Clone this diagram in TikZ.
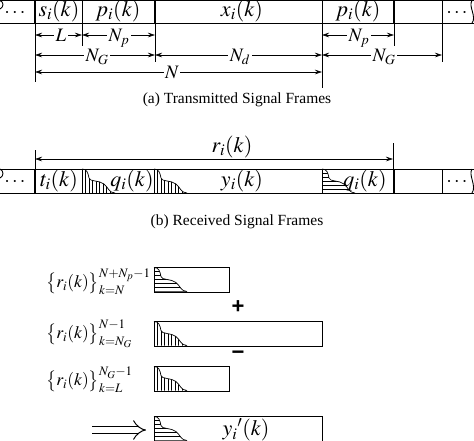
\documentclass[tikz,border=0pt]{standalone}
\usepackage{mathptmx}
\usepackage{fontspec}
\setmainfont{Liberation Serif}
\newfontfamily\sansb{Liberation Sans}
\usetikzlibrary{arrows.meta}
\newcommand\prof{(0,0) .. controls (5,0) and (6,4) .. (7,9) .. controls (8,13) and (17,11) .. (22,15) .. controls (26,18) and (27,24) .. (33,24)}
\newcommand\hatchv[2]{%
  \begin{scope}[shift={(#1,#2)}]
    \begin{scope}
      \clip \prof -- (0,24) -- cycle;
      \foreach \i in {3.5,7,...,33} \draw[line width=0.5pt] (\i,0) -- (\i,24);
    \end{scope}
    \draw[line width=0.7pt] \prof;
    \draw[line width=0.9pt] (0,0) -- (0,24);
  \end{scope}}
\newcommand\hatchh[2]{%
  \begin{scope}[shift={(#1,#2)}]
    \begin{scope}
      \clip \prof -- (0,24) -- cycle;
      \foreach \i in {4,8,...,24} \draw[line width=0.5pt] (0,\i) -- (34,\i);
    \end{scope}
    \draw[line width=0.7pt] \prof;
    \draw[line width=0.9pt] (0,0) -- (0,24);
  \end{scope}}
\begin{document}
\begin{tikzpicture}[x=1pt,y=-1pt,
  frame/.style={line width=0.9pt},
  thickdiv/.style={line width=1.6pt},
  ext/.style={line width=0.6pt},
  dim/.style={line width=0.6pt,{Stealth[length=7pt,width=4.5pt]}-{Stealth[length=7pt,width=4.5pt]}},
  lab/.style={font=\fontsize{22}{24}\selectfont, inner sep=0pt},
  dots/.style={font=\fontsize{20}{22}\selectfont, inner sep=0pt, text height=3pt, text depth=0pt, anchor=base},
  llab/.style={font=\fontsize{17.5}{20}\selectfont, inner sep=0pt, anchor=west},
  dlab/.style={font=\fontsize{19}{20}\selectfont, fill=white, inner sep=1.5pt, anchor=base},
  captxt/.style={font=\fontsize{15.5}{18}\selectfont, inner sep=0pt},
  box/.style={draw, line width=0.9pt}]
\useasboundingbox (0,0) rectangle (474,440);

% ---------------- (a) transmitted frames ----------------
\draw[frame] (0,0.5) -- (474,0.5);
\draw[frame] (0,23) -- (474,23);
\draw[frame] (0,0.5) .. controls (4,2) and (4,7) .. (0,9);
\draw[frame] (472,0.5) .. controls (468,6) and (477,17) .. (472,23);
\coordinate (a0) at (35,23);
\coordinate (a1) at (82,23);
\coordinate (a2) at (155,23);
\coordinate (a3) at (322,23);
\coordinate (a4) at (394,23);
\coordinate (a5) at (442,23);
\draw[thickdiv] (35,0.5) -- (a0);
\draw[frame] (82,0.5) -- (a1);
\draw[thickdiv] (155,0.5) -- (a2);
\draw[frame] (322,0.5) -- (a3);
\draw[thickdiv] (394,0.5) -- (a4);
\draw[frame] (442,0.5) -- (a5);
\node[dots] (ad1) at (15,17) {$\cdots$};
\node[lab] (as) at (59,11) {$s_i(k)$};
\node[lab] (ap1) at (118,11) {$p_i(k)$};
\node[lab] (ax) at (242,11) {$x_i(k)$};
\node[lab] (ap2) at (358,11) {$p_i(k)$};
\node[dots] (ad2) at (457,17) {$\cdots$};
% extension lines
\coordinate (e0) at (35,82);
\coordinate (e1) at (82,46);
\coordinate (e2) at (155,62);
\coordinate (e3) at (322,88);
\coordinate (e4) at (394,46);
\coordinate (e5) at (442,62);
\draw[ext] (a0) -- (e0);
\draw[ext] (a1) -- (e1);
\draw[ext] (a2) -- (e2);
\draw[ext] (a3) -- (e3);
\draw[ext] (a4) -- (e4);
\draw[ext] (a5) -- (e5);
\coordinate (r1) at (0,35);
\coordinate (r2) at (0,55);
\coordinate (r3) at (0,72);
\draw[dim] (a0 |- r1) -- (a1 |- r1);
\draw[dim] (a1 |- r1) -- (a2 |- r1);
\draw[dim] (a3 |- r1) -- (a4 |- r1);
\draw[dim] (a0 |- r2) -- (a2 |- r2);
\draw[dim] (a2 |- r2) -- (a3 |- r2);
\draw[dim] (a3 |- r2) -- (a5 |- r2);
\draw[dim] (a0 |- r3) -- (a3 |- r3);
\node[dlab] (lL) at (61,41.5) {$L$};
\node[dlab] (lNp1) at (119,41.5) {$N_p$};
\node[dlab] (lNp2) at (359,41.5) {$N_p$};
\node[dlab] (lNG1) at (97,61.5) {$N_G$};
\node[dlab] (lNd) at (240,61.5) {$N_d$};
\node[dlab] (lNG2) at (384,61.5) {$N_G$};
\node[dlab] (lN) at (172,78.5) {$N$};
\node[captxt] (capa) at (237,100) {(a) Transmitted Signal Frames};

% ---------------- (b) received frames ----------------
\coordinate (b0) at (35,150);
\coordinate (b1) at (393,143);
\coordinate (r4) at (0,159);
\draw[ext] (b0) -- (35,169);
\draw[ext] (b1) -- (393,169);
\draw[dim] (b0 |- r4) -- (b1 |- r4);
\node[lab] (rk) at (232,147) {$r_i(k)$};
\draw[frame] (0,169) -- (474,169);
\draw[frame] (0,193) -- (474,193);
\draw[frame] (0,169) .. controls (4,171) and (4,176) .. (0,178);
\draw[frame] (472,169) .. controls (468,175) and (477,186) .. (472,193);
\draw[thickdiv] (35,169) -- (35,193);
\draw[thickdiv] (394,169) -- (394,193);
\draw[frame] (442,169) -- (442,193);
\hatchv{82}{169}
\hatchv{154}{169}
\hatchh{322}{169}
\node[dots] (bd1) at (15,186) {$\cdots$};
\node[lab] (bt) at (59,181) {$t_i(k)$};
\node[lab] (bq1) at (132,181) {$q_i(k)$};
\node[lab] (by) at (242,181) {$y_i(k)$};
\node[lab] (bq2) at (365,181) {$q_i(k)$};
\node[dots] (bd2) at (457,186) {$\cdots$};
\node[captxt] (capb) at (237,222) {(b) Received Signal Frames};

% ---------------- (c) combination ----------------
\node[box, minimum width=75pt, minimum height=25pt, anchor=north west, inner sep=0pt] (c1) at (154,267) {};
\hatchh{154}{267.5}
\node[font=\sansb\bfseries\fontsize{22}{22}\selectfont, inner sep=0pt] (plus) at (238,307) {+};
\node[box, minimum width=168pt, minimum height=25pt, anchor=north west, inner sep=0pt] (c2) at (154,321) {};
\hatchv{154}{321.5}
\node[font=\sansb\bfseries\fontsize{22}{22}\selectfont, inner sep=0pt] (minus) at (238,355) {−};
\node[box, minimum width=75pt, minimum height=25pt, anchor=north west, inner sep=0pt] (c3) at (154,366) {};
\hatchv{154}{366.5}
\node[box, line width=1.3pt, minimum width=168pt, minimum height=36pt, anchor=north west, inner sep=0pt] (c4) at (154,416) {};
\hatchh{154}{416.5}
\node[lab] (yp) at (246,430) {$y_i{}'(k)$};
\node[llab] (l1) at (46,282) {$\bigl\{r_i(k)\bigr\}_{k=N}^{N+N_p-1}$};
\node[llab] (l2) at (46,334) {$\bigl\{r_i(k)\bigr\}_{k=N_G}^{N-1}$};
\node[llab] (l3) at (46,380) {$\bigl\{r_i(k)\bigr\}_{k=L}^{N_G-1}$};
\coordinate (arrs) at (92,430);
\coordinate (arre) at (146,430);
\draw[line width=1pt, double distance=6pt, -{Implies[length=6pt]}] (arrs) -- (arre);
\end{tikzpicture}
\end{document}
